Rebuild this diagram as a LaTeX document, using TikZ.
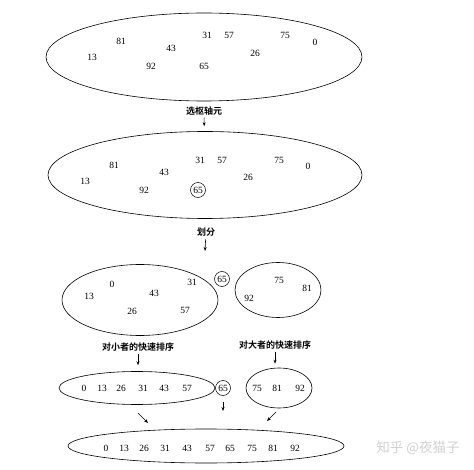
\documentclass[tikz,border=0pt]{standalone}
\usepackage{fontspec}
\setmainfont{Liberation Serif}
\newfontfamily\cjk{Noto Sans CJK SC}
\newfontfamily\cjkb{Noto Sans CJK SC Bold}
\usetikzlibrary{shapes.geometric,positioning,arrows.meta}
\tikzset{
  set/.style={draw, ellipse, inner sep=0pt, line width=0.6pt},
  num/.style={inner sep=0pt, font=\fontsize{9.5}{10}\selectfont},
  pivot/.style={draw, circle, inner sep=0pt, minimum size=15pt, line width=0.5pt, font=\fontsize{9.5}{10}\selectfont},
  step label/.style={inner sep=1pt, font=\cjkb\fontsize{9}{9}\selectfont},
  flow/.style={-{Stealth[length=4pt,width=3pt]}, line width=0.6pt}
}
\begin{document}
\begin{tikzpicture}[x=1pt,y=-1pt]
  \useasboundingbox (0,0) rectangle (474,470);
  % unsorted list
  \node[set, minimum width=316pt, minimum height=88pt] (All) at (204,57) {};
  \foreach \v/\x/\y in {81/121/41, 13/92/57, 43/171/48, 92/151/66, 31/207/35,
                        57/229/35, 65/204/66, 26/255/53, 75/285/35, 0/315/42}
    \node[num] at (\x,\y) {\v};
  \node[step label] (Choose) at (204,111) {选枢轴元};
  % pivot chosen
  \node[set, minimum width=314pt, minimum height=87pt] (Marked) at (205,175) {};
  \foreach \v/\x/\y in {81/114/165, 13/85/181, 43/164/172, 92/144/190, 31/200/160,
                        57/222/160, 26/248/177, 75/279/160, 0/308/166}
    \node[num] at (\x,\y) {\v};
  \node[pivot] (PivotA) at (198,190) {65};
  \node[step label] (Split) at (206,232) {划分};
  \coordinate (SplitEnd) at (205,251);
  % partitioned
  \node[set, minimum width=156pt, minimum height=71pt] (Small) at (140,300) {};
  \foreach \v/\x/\y in {0/112/284, 13/89/296, 43/154/293, 31/192/282, 26/132/311, 57/185/310}
    \node[num] at (\x,\y) {\v};
  \node[pivot] (PivotB) at (222,279) {65};
  \node[set, minimum width=86pt, minimum height=55pt] (Large) at (278,290) {};
  \foreach \v/\x/\y in {75/279/280, 81/307/288, 92/249/298}
    \node[num] at (\x,\y) {\v};
  \node[step label] (SortSmall) at (138,347) {对小者的快速排序};
  \node[step label] (SortLarge) at (275,345) {对大者的快速排序};
  % sorted parts
  \node[set, minimum width=156pt, minimum height=33pt] (SmallDone) at (137,388) {};
  \foreach \v/\x in {0/84, 13/102, 26/121, 31/143, 43/164, 57/187}
    \node[num] at (\x,388) {\v};
  \node[pivot] (PivotC) at (223,388) {65};
  \node[set, minimum width=66pt, minimum height=40pt] (LargeDone) at (279,388) {};
  \foreach \v/\x in {75/257, 81/277, 92/300}
    \node[num] at (\x,388) {\v};
  \coordinate (JoinL) at (138,413);
  \coordinate (JoinLEnd) at (148,423);
  \coordinate (JoinM) at (223,402);
  \coordinate (JoinMEnd) at (223,411);
  \coordinate (JoinR) at (276,412);
  \coordinate (JoinREnd) at (267,421);
  % result
  \node[set, minimum width=276pt, minimum height=34pt] (Sorted) at (206,446) {};
  \foreach \v/\x in {0/106, 13/124, 26/144, 31/165, 43/187, 57/210, 65/230, 75/252, 81/273, 92/295}
    \node[num] at (\x,448) {\v};
  \node[font=\cjk\fontsize{13.5}{14}\selectfont, text=black!18] (Mark) at (418,448) {知乎 @夜猫子};
  % arrows
  \draw[flow, shorten <=1pt, shorten >=5pt] (Choose) -- (Marked);
  \draw[flow, shorten <=2pt] (Split) -- (SplitEnd);
  \draw[flow, shorten <=2pt, shorten >=6pt] (SortSmall.south) -- (SmallDone.north -| SortSmall.south);
  \draw[flow, shorten <=2pt, shorten >=4pt] (SortLarge.south) -- (LargeDone.north -| SortLarge.south);
  \draw[flow] (JoinL) -- (JoinLEnd);
  \draw[flow] (JoinM) -- (JoinMEnd);
  \draw[flow] (JoinR) -- (JoinREnd);
\end{tikzpicture}
\end{document}
